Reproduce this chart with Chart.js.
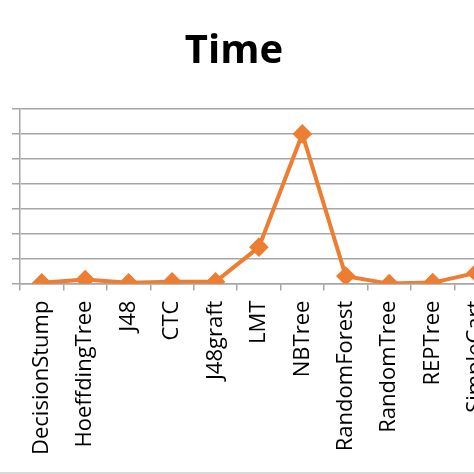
<!DOCTYPE html>
<html>
<head>
<meta charset="utf-8">
<script src="https://cdn.jsdelivr.net/npm/chart.js@4.4.0/dist/chart.umd.min.js"></script>
<style>
    html, body { margin: 0; padding: 0; background: #fff; }
    #frame { position: relative; width: 474px; height: 472px; overflow: hidden; border-bottom: 2px solid #d9d9d9; }
    #wrap { position: absolute; left: -42px; top: 0; width: 555px; height: 472px; }
</style>
</head>
<body>
<div id="frame">
    <div id="wrap"><canvas id="chart"></canvas></div>
</div>
<script>
// Time per classifier
const classifiers = ['DecisionStump', 'HoeffdingTree', 'J48', 'CTC', 'J48graft', 'LMT',
    'NBTree', 'RandomForest', 'RandomTree', 'REPTree', 'SimpleCart'];
const timeValues = [0.03, 0.16, 0.03, 0.07, 0.07, 1.46, 6.0, 0.3, 0.0, 0.04, 0.43];
const yMin = 0;
const yMax = 7;
const yStep = 1;

const ctx = document.getElementById('chart').getContext('2d');
new Chart(ctx, {
    type: 'line',
    data: {
        labels: classifiers,
        datasets: [{
            label: 'Time',
            data: timeValues,
            borderColor: '#ED7D31',
            backgroundColor: '#ED7D31',
            borderWidth: 4,
            pointStyle: 'rectRot',
            pointRadius: 7,
            pointHoverRadius: 7,
            tension: 0
        }]
    },
    options: {
        responsive: true,
        maintainAspectRatio: false,
        animation: false,
        layout: {
            padding: { left: 0, right: 3, top: 0, bottom: 7 }
        },
        plugins: {
            legend: { display: false },
            tooltip: { enabled: false },
            title: {
                display: true,
                text: 'Time',
                color: '#000',
                font: { family: 'Open Sans', size: 40, weight: 'bold' },
                padding: { top: 28, bottom: 33 }
            }
        },
        scales: {
            x: {
                offset: true,
                grid: {
                    offset: true,
                    drawOnChartArea: false,
                    drawTicks: true,
                    tickLength: 7,
                    color: '#A6A6A6',
                    lineWidth: 1.5
                },
                border: { display: true, color: '#A6A6A6', width: 1.5 },
                ticks: {
                    autoSkip: false,
                    maxRotation: 90,
                    minRotation: 90,
                    padding: 10,
                    color: '#000',
                    font: { family: 'Open Sans', size: 22 }
                }
            },
            y: {
                min: yMin,
                max: yMax,
                afterFit: function(scale) {
                    // the y labels sit off the left edge of the picture
                    scale.width = 62;
                },
                grid: {
                    color: '#A6A6A6',
                    lineWidth: 1.5,
                    drawTicks: true,
                    tickLength: 8
                },
                border: { display: true, color: '#A6A6A6', width: 1.5 },
                ticks: {
                    display: false,
                    stepSize: yStep
                }
            }
        }
    }
});
</script>
</body>
</html>
